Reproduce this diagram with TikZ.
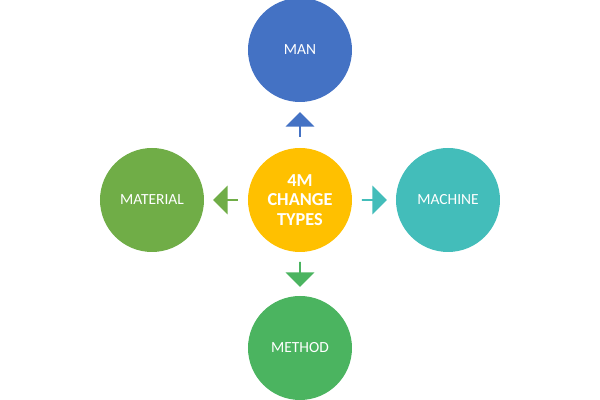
\documentclass[tikz,border=0pt]{standalone}
\usepackage{fontspec}
\setmainfont{Carlito}
\usetikzlibrary{positioning,shapes.arrows,calc}
\definecolor{manblue}{HTML}{4472C4}
\definecolor{matgreen}{HTML}{70AD47}
\definecolor{macteal}{HTML}{43BDBA}
\definecolor{methgreen}{HTML}{4BB460}
\definecolor{coreyellow}{HTML}{FFC000}
\tikzset{
	bubble/.style = {circle, minimum size = 2.6cm, text = white, font = \fontsize{11}{13}\selectfont, align = center},
	blockarrow/.style = {single arrow, draw = none, minimum height = 0.62cm, minimum width = 0.72cm, single arrow head extend = 0.12cm, inner sep = 0pt}
}
\begin{document}
\begin{tikzpicture}
	 \useasboundingbox (-7.5, -5) rectangle (7.5, 5);
	 
	 \node[bubble, fill = coreyellow, font = \fontsize{13}{14}\selectfont\bfseries] (core) at (0, 0) {4M\\CHANGE\\TYPES};
	 \node[bubble, fill = manblue] (man) at (0, 3.75) {MAN};
	 \node[bubble, fill = matgreen] (material) at (-3.7, 0) {MATERIAL};
	 \node[bubble, fill = macteal] (machine) at (3.7, 0) {MACHINE};
	 \node[bubble, fill = methgreen] (method) at (0, -3.7) {METHOD};
	 
	 \node[blockarrow, fill = manblue, shape border rotate = 90] (toman) at ($(core)!0.5!(man)$) {};
	 \node[blockarrow, fill = matgreen, shape border rotate = 180] (tomaterial) at ($(core)!0.5!(material)$) {};
	 \node[blockarrow, fill = macteal] (tomachine) at ($(core)!0.5!(machine)$) {};
	 \node[blockarrow, fill = methgreen, shape border rotate = 270] (tomethod) at ($(core)!0.5!(method)$) {};
\end{tikzpicture}
\end{document}
